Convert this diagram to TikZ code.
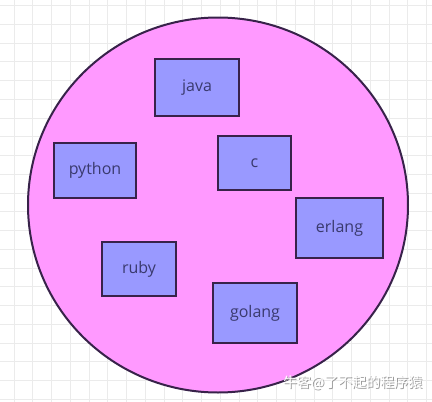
\documentclass[tikz,border=0pt]{standalone}
\usepackage{fontspec}
\usetikzlibrary{shapes.geometric}
\setmainfont{Open Sans}
\newfontfamily\cjk{Noto Sans CJK SC}
\definecolor{gridc}{HTML}{EBEBEB}
\definecolor{pinkc}{HTML}{FF99FF}
\definecolor{boxc}{HTML}{9999FF}
\definecolor{edgec}{HTML}{38224A}
\definecolor{textc}{HTML}{3A3A6E}
\definecolor{shadowc}{HTML}{999999}
\tikzset{
  lang/.style={draw=edgec, line width=2.8pt, fill=boxc, text=textc,
    font=\fontsize{16}{19}\selectfont, inner sep=0pt},
}
\begin{document}
\begin{tikzpicture}[x=1pt,y=-1pt]
\useasboundingbox (0,0) rectangle (432,402);
\fill[white] (0,0) rectangle (432,402);
\foreach \i in {0,...,22} {
  \draw[gridc, line width=0.8pt] ({14+18.75*\i},0) -- ({14+18.75*\i},402);
}
\foreach \j in {0,...,21} {
  \draw[gridc, line width=0.8pt] (0,{5.5+18.75*\j}) -- (432,{5.5+18.75*\j});
}
\node[draw=edgec, line width=2pt, fill=pinkc, ellipse, minimum width=380pt, minimum height=375pt, inner sep=0pt] (world) at (218,205) {};
\node[lang, minimum width=84pt, minimum height=57pt] (java) at (197,87.5) {java};
\node[lang, minimum width=73pt, minimum height=54pt] (c) at (254.5,163) {c};
\node[lang, minimum width=82pt, minimum height=55pt] (python) at (95,170.5) {python};
\node[lang, minimum width=87pt, minimum height=60pt] (erlang) at (339.5,228) {erlang};
\node[lang, minimum width=74pt, minimum height=54pt] (ruby) at (139,269) {ruby};
\node[lang, minimum width=84pt, minimum height=60pt] (golang) at (255,313) {golang};
\node[text=shadowc, font=\cjk\fontsize{14}{16}\selectfont, anchor=west, inner sep=0pt] (wms) at (284,384) {牛客@了不起的程序猿};
\node[text=white, font=\cjk\fontsize{14}{16}\selectfont, anchor=west, inner sep=0pt] (wm) at (283,383) {牛客@了不起的程序猿};
\end{tikzpicture}
\end{document}
